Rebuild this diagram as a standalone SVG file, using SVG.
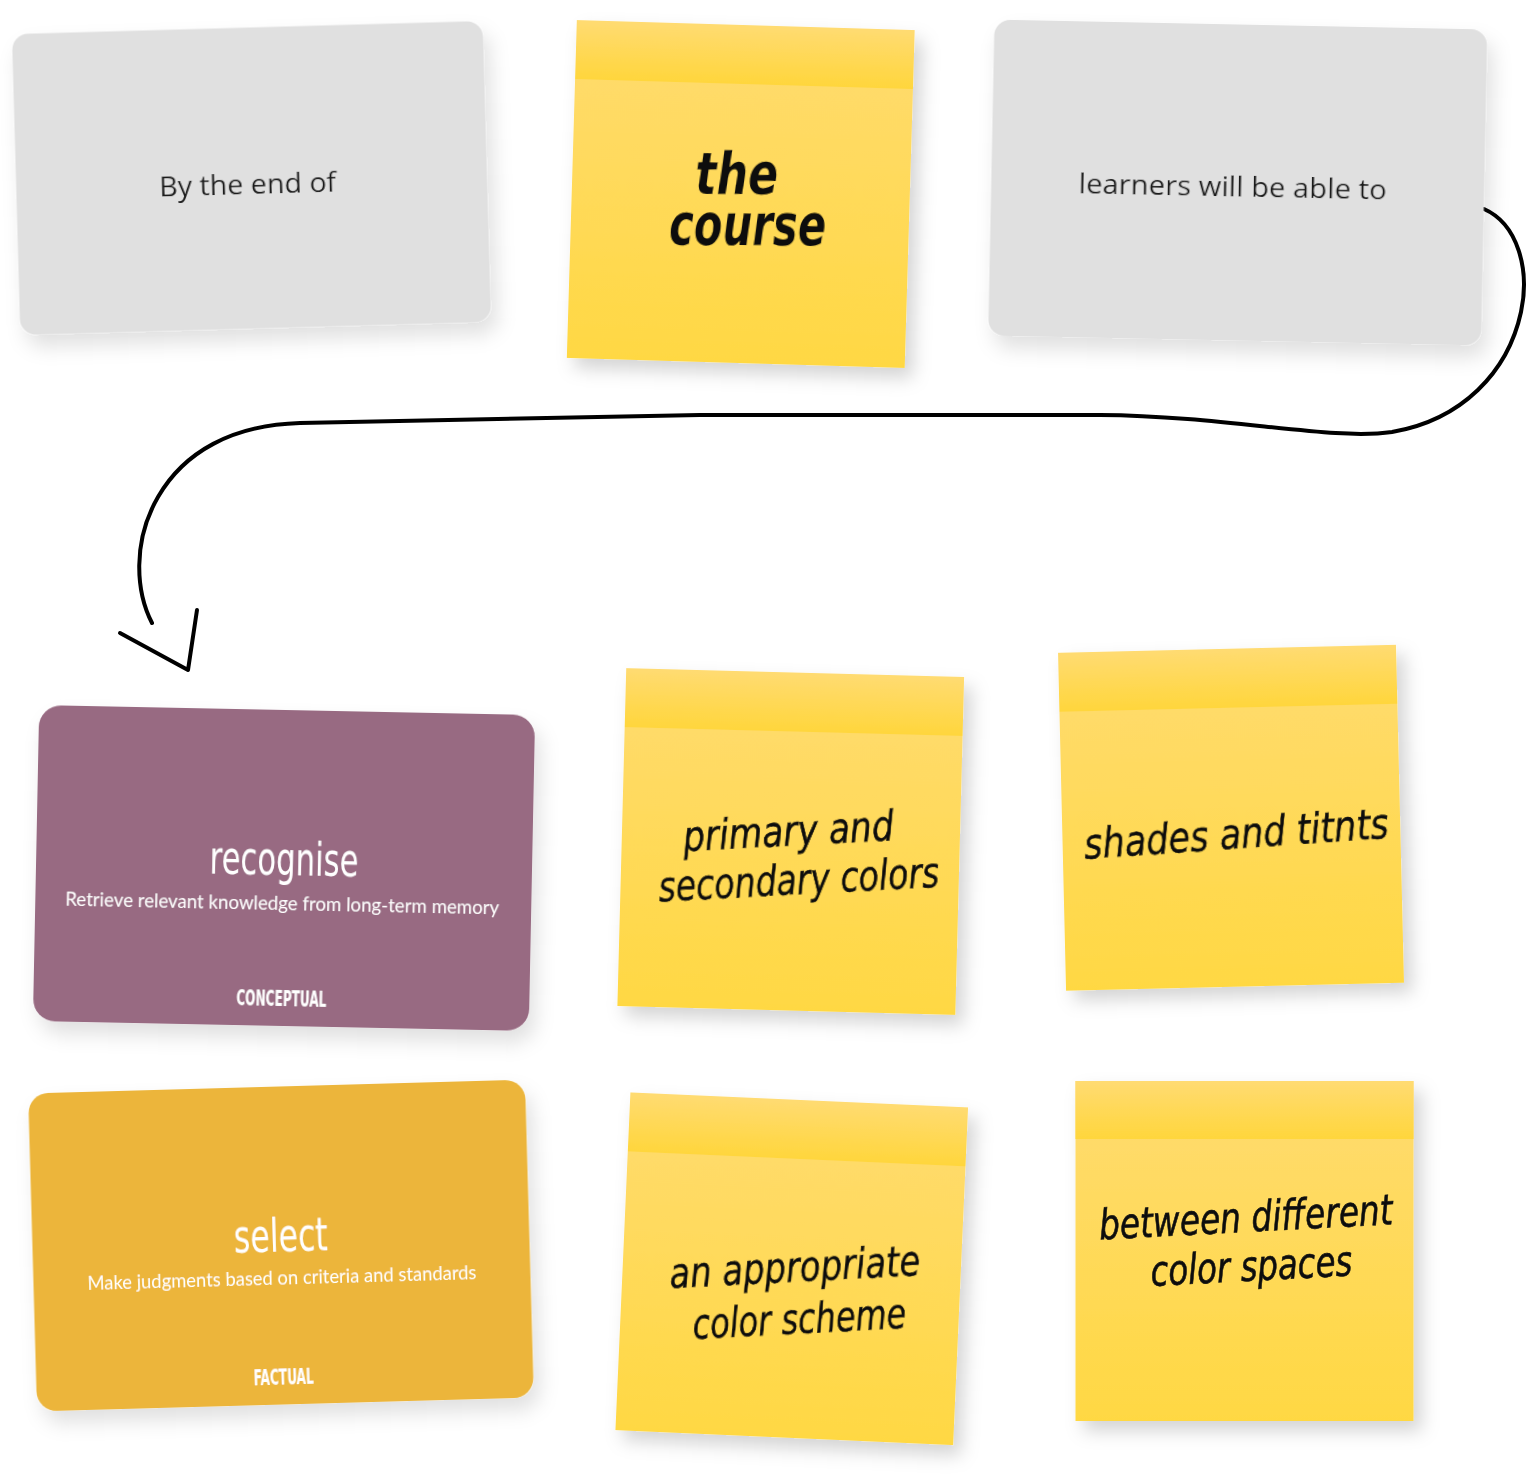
<svg xmlns="http://www.w3.org/2000/svg" width="1536" height="1474" viewBox="0 0 1536 1474">
<defs>
<style>
.gray{fill:#e0e0e0}
.graytxt{font-family:"Open Sans","Noto Sans","DejaVu Sans",sans-serif;font-size:28px;fill:#1e1e1e;text-anchor:middle}
.title{font-family:"Liberation Sans Narrow","DejaVu Sans Condensed","Roboto",sans-serif;font-weight:300;font-size:47px;fill:#ffffff;text-anchor:middle}
.desc{font-family:"Lato","Open Sans",sans-serif;font-size:19px;fill:#ffffff;text-anchor:middle}
.tag{font-family:"Liberation Sans Narrow","DejaVu Sans Condensed","Roboto",sans-serif;font-weight:bold;font-size:21px;fill:#ffffff;text-anchor:middle}
.hand{font-family:"Liberation Sans Narrow","DejaVu Sans Condensed","DejaVu Sans",sans-serif;font-style:italic;font-size:42px;fill:#111;stroke:#111;stroke-width:0.6;text-anchor:middle}
.handbig{font-family:"Liberation Sans Narrow","DejaVu Sans Condensed","DejaVu Sans",sans-serif;font-style:italic;font-weight:bold;font-size:58px;fill:#111;text-anchor:middle}
.body{fill:url(#stickyBody)}
.band{fill:url(#stickyBand)}
.connector{fill:none;stroke:#000;stroke-width:4;stroke-linecap:round;stroke-linejoin:round}
</style>
<linearGradient id="stickyBody" x1="0" y1="0" x2="0" y2="1">
<stop offset="0" stop-color="#ffdb70"/>
<stop offset="1" stop-color="#ffd843"/>
</linearGradient>
<linearGradient id="stickyBand" x1="0" y1="0" x2="0" y2="1">
<stop offset="0" stop-color="#ffdb72"/>
<stop offset="1" stop-color="#ffd63c"/>
</linearGradient>
<filter id="shadow" x="-15%" y="-15%" width="140%" height="140%">
<feDropShadow dx="8" dy="10" stdDeviation="9" flood-color="#000" flood-opacity="0.17"/>
</filter>
<filter id="cardShadow" x="-15%" y="-15%" width="140%" height="145%">
<feDropShadow dx="6" dy="12" stdDeviation="10" flood-color="#000" flood-opacity="0.12"/>
</filter>
</defs>
<rect width="1536" height="1474" fill="#ffffff"/>

<g id="connectors">
<path class="connector" d="M1484,209 C1518,224 1530,270 1521,312 C1508,372 1462,420 1392,432 C1330,441 1230,416 1100,415 L700,415 C550,417 400,420 300,423 C232,425 184,452 158,497 C132,542 136,592 152,623"/>
<path class="connector" d="M120,633 L188,670 L197,610"/>
</g>

<g id="card-by-the-end" transform="translate(251.5,178) rotate(-1.6)" filter="url(#cardShadow)">
<rect x="-235.5" y="-150.5" width="471" height="301" rx="16" class="gray"/>
<text x="-4" y="16" class="graytxt" textLength="177" lengthAdjust="spacingAndGlyphs">By the end of</text>
</g>

<g id="sticky-the-course" transform="translate(740.75,194) rotate(1.7)" filter="url(#shadow)">
<rect x="-169" y="-169" width="338" height="338" class="body"/>
<rect x="-169" y="-169" width="338" height="59" class="band"/>
<text x="-4" y="0" class="handbig" textLength="83" lengthAdjust="spacingAndGlyphs" transform="rotate(-1.5)">the</text>
<text x="7" y="51" class="handbig" textLength="157" lengthAdjust="spacingAndGlyphs" transform="rotate(-1.5)">course</text>
</g>

<g id="card-learners" transform="translate(1237.75,182.5) rotate(1.15)" filter="url(#cardShadow)">
<rect x="-246.5" y="-158" width="493" height="316" rx="16" class="gray"/>
<text x="-5" y="14" class="graytxt" textLength="308" lengthAdjust="spacingAndGlyphs">learners will be able to</text>
</g>

<g id="card-recognise" transform="translate(284,868) rotate(1.15)" filter="url(#cardShadow)">
<rect x="-248" y="-158" width="496" height="316" rx="22" fill="#986a82"/>
<text x="0" y="7" class="title" textLength="149" lengthAdjust="spacingAndGlyphs">recognise</text>
<text x="-1" y="42" class="desc" textLength="434" lengthAdjust="spacingAndGlyphs">Retrieve relevant knowledge from long-term memory</text>
<text x="0" y="138" class="tag" textLength="90" lengthAdjust="spacingAndGlyphs">CONCEPTUAL</text>
</g>

<g id="sticky-primary" transform="translate(790.75,841.5) rotate(1.5)" filter="url(#shadow)">
<rect x="-169" y="-169" width="338" height="338" class="body"/>
<rect x="-169" y="-169" width="338" height="59" class="band"/>
<g transform="rotate(-4.5)">
<text x="-2" y="4" class="hand" textLength="211" lengthAdjust="spacingAndGlyphs">primary and</text>
<text x="6" y="53" class="hand" textLength="281" lengthAdjust="spacingAndGlyphs">secondary colors</text>
</g>
</g>

<g id="sticky-shades" transform="translate(1231,817.75) rotate(-1.36)" filter="url(#shadow)">
<rect x="-169" y="-169" width="338" height="338" class="body"/>
<rect x="-169" y="-169" width="338" height="59" class="band"/>
<text x="4" y="31" class="hand" textLength="305" lengthAdjust="spacingAndGlyphs" transform="rotate(-2.6)">shades and titnts</text>
</g>

<g id="card-select" transform="translate(281,1245.5) rotate(-1.6)" filter="url(#cardShadow)">
<rect x="-248.5" y="-159" width="497" height="318" rx="20" fill="#ecb53a"/>
<text x="0" y="6" class="title" textLength="94" lengthAdjust="spacingAndGlyphs">select</text>
<text x="0" y="39" class="desc" textLength="389" lengthAdjust="spacingAndGlyphs">Make judgments based on criteria and standards</text>
<text x="-1" y="139" class="tag" textLength="60" lengthAdjust="spacingAndGlyphs">FACTUAL</text>
</g>

<g id="sticky-scheme" transform="translate(791.75,1268.75) rotate(2.54)" filter="url(#shadow)">
<rect x="-169" y="-169" width="338" height="338" class="body"/>
<rect x="-169" y="-169" width="338" height="59" class="band"/>
<g transform="rotate(-5.5)">
<text x="3" y="13" class="hand" textLength="251" lengthAdjust="spacingAndGlyphs">an appropriate</text>
<text x="5" y="65" class="hand" textLength="214" lengthAdjust="spacingAndGlyphs">color scheme</text>
</g>
</g>

<g id="sticky-spaces" transform="translate(1244.5,1251)" filter="url(#shadow)">
<rect x="-169" y="-170" width="338" height="340" class="body"/>
<rect x="-169" y="-170" width="338" height="58" class="band"/>
<g transform="rotate(-3)">
<text x="3" y="-19" class="hand" textLength="294" lengthAdjust="spacingAndGlyphs">between different</text>
<text x="6" y="30" class="hand" textLength="202" lengthAdjust="spacingAndGlyphs">color spaces</text>
</g>
</g>
</svg>
